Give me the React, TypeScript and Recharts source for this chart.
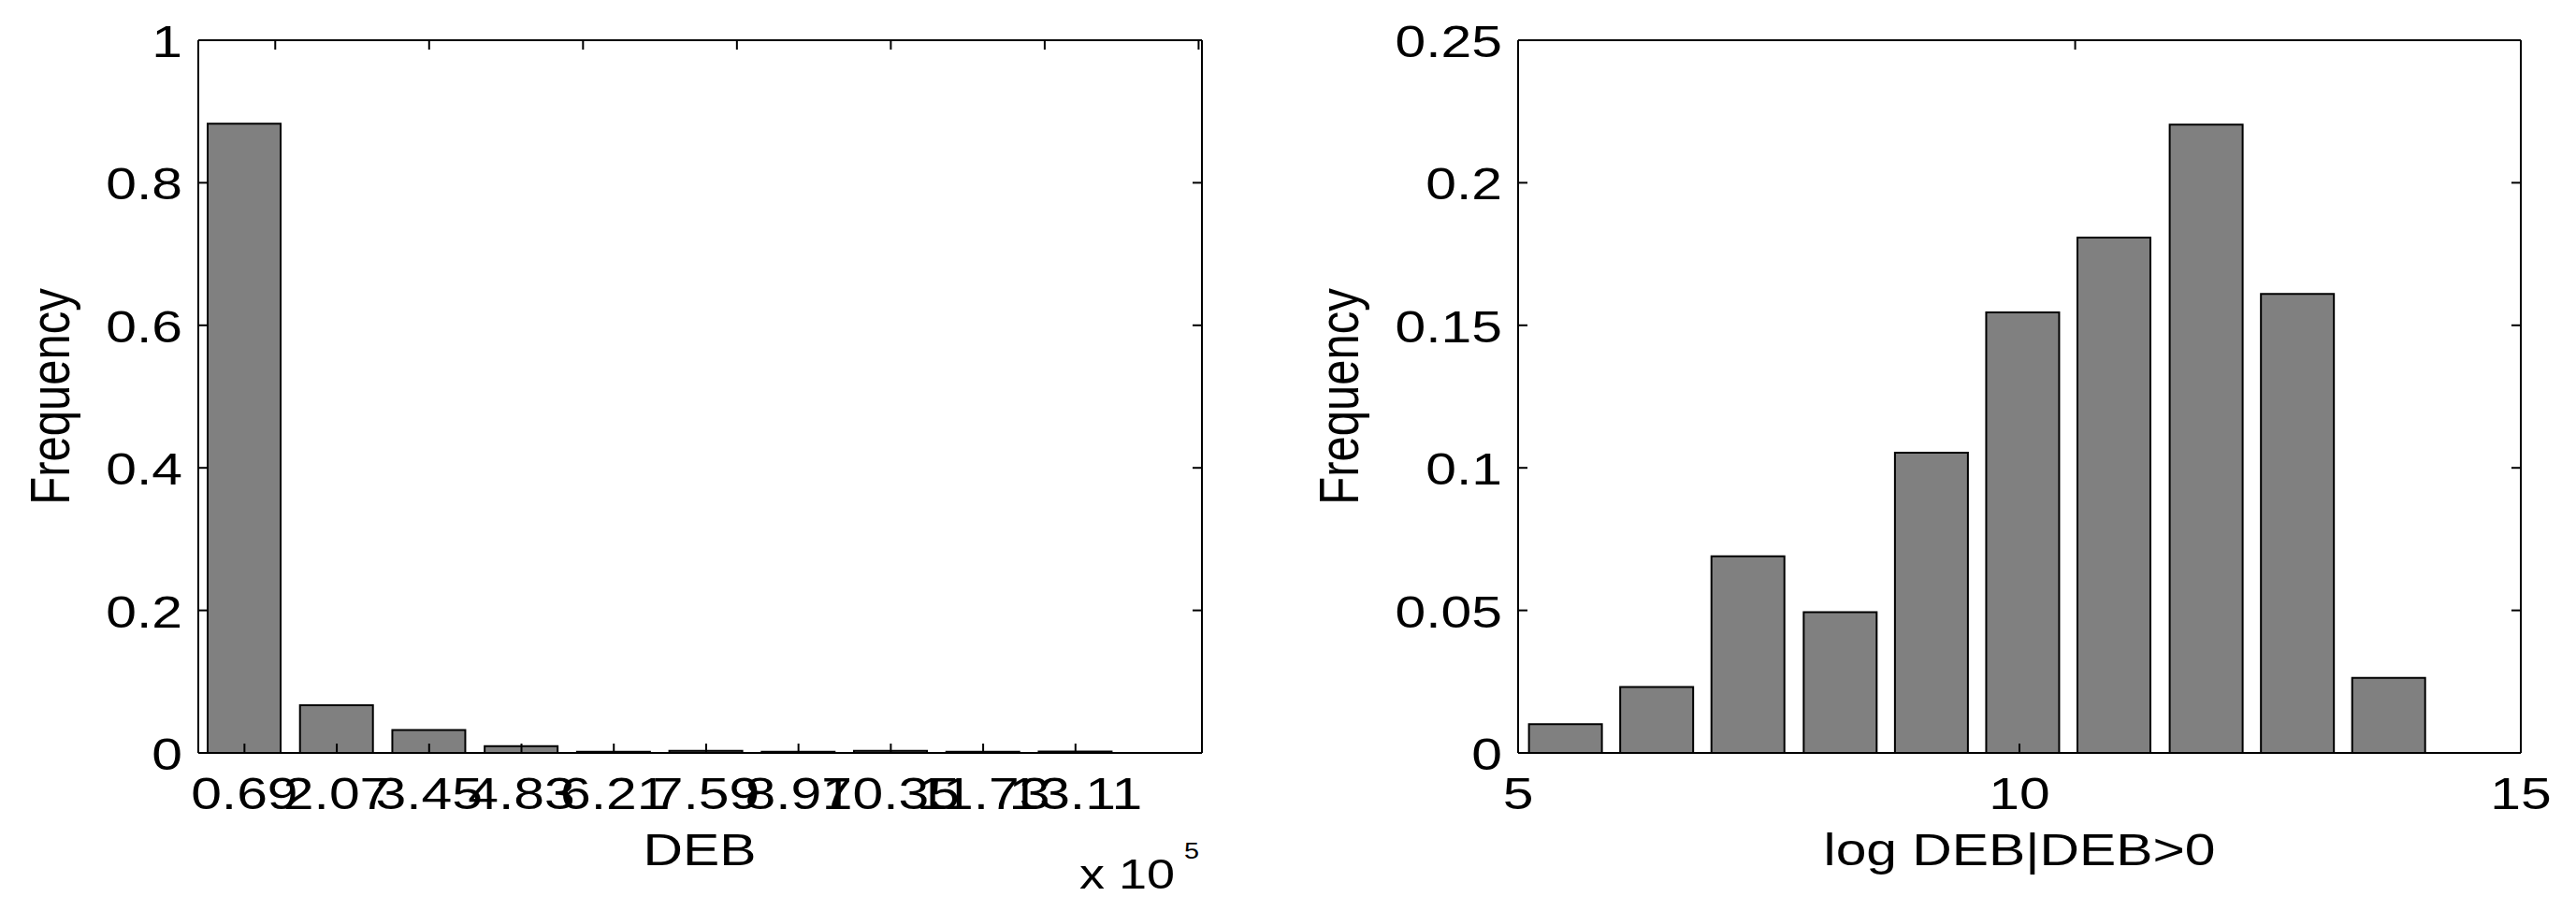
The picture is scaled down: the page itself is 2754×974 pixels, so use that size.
import React from "react";
import { BarChart, Bar, XAxis, YAxis } from "recharts";

// ---- data ----
const debBinCenters = [0.69, 2.07, 3.45, 4.83, 6.21, 7.59, 8.97, 10.35, 11.73, 13.11];
const debFrequency = [0.883, 0.067, 0.032, 0.0095, 0.0015, 0.003, 0.0015, 0.003, 0.0015, 0.002];
const debYTicks = [0, 0.2, 0.4, 0.6, 0.8, 1];

const logBinCenters = [5.47, 6.38, 7.29, 8.21, 9.12, 10.03, 10.94, 11.86, 12.77, 13.68];
const logFrequency = [0.0101, 0.0231, 0.069, 0.0494, 0.1053, 0.1545, 0.1808, 0.2204, 0.161, 0.0263];
const logXTicks = [5, 10, 15];
const logYTicks = [0, 0.05, 0.1, 0.15, 0.2, 0.25];

const leftData = debBinCenters.map((x, i) => ({ x, freq: debFrequency[i] }));
const rightData = logBinCenters.map((x, i) => ({ x, freq: logFrequency[i] }));

// ---- style ----
const FONT = '"Liberation Sans", Arial, Helvetica, sans-serif';
const FS = 49;
const SX = 1.2;

const BottomTick = (props: any) => {
  const { x, y, payload } = props;
  return (
    <text
      transform={`translate(${x},${y}) scale(${SX},1)`}
      y={35}
      textAnchor="middle"
      fontSize={FS}
      fontFamily={FONT}
      fill="#000"
    >
      {String(payload.value)}
    </text>
  );
};

const LeftTick = (props: any) => {
  const { x, y, payload } = props;
  return (
    <text
      transform={`translate(${x},${y}) scale(${SX},1)`}
      y={18}
      textAnchor="end"
      fontSize={FS}
      fontFamily={FONT}
      fill="#000"
    >
      {String(payload.value)}
    </text>
  );
};

const NoTick = () => <g />;

const axisStroke = { stroke: "#000", strokeWidth: 2 };

type PanelProps = {
  data: { x: number; freq: number }[];
  xDomain: [number, number];
  xTicks: number[];
  yDomain: [number, number];
  yTicks: number[];
  marginLeft: number;
  marginRight: number;
};

const Panel = ({ data, xDomain, xTicks, yDomain, yTicks, marginLeft, marginRight }: PanelProps) => (
  <BarChart
    width={1377}
    height={974}
    data={data}
    margin={{ top: 33, right: marginRight, bottom: 69, left: marginLeft }}
  >
    <XAxis
      dataKey="x"
      type="number"
      domain={xDomain}
      ticks={xTicks}
      allowDataOverflow
      interval={0}
      height={100}
      tickSize={-10}
      tickMargin={35}
      axisLine={axisStroke}
      tickLine={axisStroke}
      tick={BottomTick}
    />
    <XAxis
      xAxisId="top"
      orientation="top"
      type="number"
      domain={xDomain}
      ticks={xTicks}
      allowDataOverflow
      interval={0}
      height={10}
      tickSize={-10}
      axisLine={axisStroke}
      tickLine={axisStroke}
      tick={NoTick}
    />
    <YAxis
      type="number"
      domain={yDomain}
      ticks={yTicks}
      allowDataOverflow
      interval={0}
      width={100}
      tickSize={-10}
      tickMargin={27}
      axisLine={axisStroke}
      tickLine={axisStroke}
      tick={LeftTick}
    />
    <YAxis
      yAxisId="right"
      orientation="right"
      type="number"
      domain={yDomain}
      ticks={yTicks}
      allowDataOverflow
      interval={0}
      width={10}
      tickSize={-10}
      axisLine={axisStroke}
      tickLine={axisStroke}
      tick={NoTick}
    />
    <Bar
      dataKey="freq"
      fill="#808080"
      stroke="#000"
      strokeWidth={2}
      barSize={78}
      isAnimationActive={false}
    />
  </BarChart>
);

const Title = ({ x, y, text, rotate, size }: { x: number; y: number; text: string; rotate?: boolean; size?: number }) => (
  <text
    transform={`translate(${x},${y}) scale(${SX},1)${rotate ? " rotate(-90)" : ""}`}
    textAnchor={rotate ? "middle" : "middle"}
    fontSize={size ?? FS}
    fontFamily={FONT}
    fill="#000"
  >
    {text}
  </text>
);

export default function App() {
  return (
    <div
      style={{
        position: "absolute",
        left: 0,
        top: 0,
        width: 2754,
        height: 974,
        background: "#fff",
        overflow: "hidden",
      }}
    >
      <div style={{ position: "absolute", left: 0, top: 0 }}>
        <Panel
          data={leftData}
          xDomain={[0, 15]}
          xTicks={debBinCenters}
          yDomain={[0, 1]}
          yTicks={debYTicks}
          marginLeft={112}
          marginRight={82}
        />
      </div>
      <div style={{ position: "absolute", left: 1377, top: 0 }}>
        <Panel
          data={rightData}
          xDomain={[5, 15]}
          xTicks={logXTicks}
          yDomain={[0, 0.25]}
          yTicks={logYTicks}
          marginLeft={146}
          marginRight={49}
        />
      </div>
      <svg
        width={2754}
        height={974}
        style={{ position: "absolute", left: 0, top: 0, pointerEvents: "none" }}
      >
        <Title x={74} y={424} text="Frequency" rotate />
        <Title x={1452} y={424} text="Frequency" rotate />
        <Title x={748} y={925} text="DEB" />
        <Title x={2159} y={925} text="log DEB|DEB>0" />
        <text
          transform={`translate(1154,950) scale(${SX},1)`}
          fontSize={45}
          fontFamily={FONT}
          fill="#000"
        >
          x 10
        </text>
        <text
          transform={`translate(1266,918) scale(${SX},1)`}
          fontSize={24}
          fontFamily={FONT}
          fill="#000"
        >
          5
        </text>
      </svg>
    </div>
  );
}
